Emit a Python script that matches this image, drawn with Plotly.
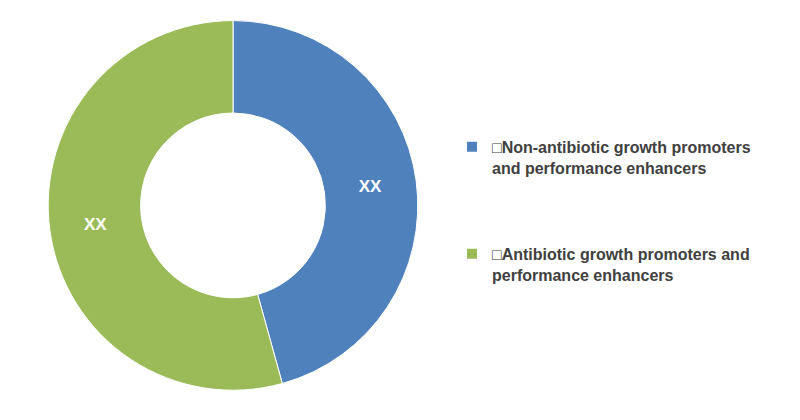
import plotly.graph_objects as go

labels = ["□Non-antibiotic growth promoters<br>and performance enhancers<br> <br> <br> ",
          "□Antibiotic growth promoters and<br>performance enhancers"]
values = [45.7, 54.3]
texts = ["<b>XX</b>", "<b>XX</b>"]
colors = ["#4f81bd", "#9bbb59"]

fig = go.Figure(go.Pie(
    labels=labels, values=values, text=texts, textinfo="text",
    textposition="inside", insidetextorientation="horizontal",
    hole=0.5, sort=False, direction="clockwise", rotation=0,
    marker=dict(colors=colors, line=dict(color="white", width=1)),
    textfont=dict(color="white", size=17, family="Liberation Sans"),
    domain=dict(x=[0.05, 0.5125], y=[0.09, 0.97]),
    hoverinfo="skip",
))
fig.update_layout(
    width=800, height=420, margin=dict(l=0, r=0, t=0, b=0),
    paper_bgcolor="white", plot_bgcolor="white",
    font=dict(family="Liberation Sans", size=16, color="#404040"),
    legend=dict(x=0.555, y=0.71, yanchor="top", xanchor="left", valign="top",
                font=dict(size=16, weight="bold"), itemsizing="constant"),
)
fig.write_html("out.html")
